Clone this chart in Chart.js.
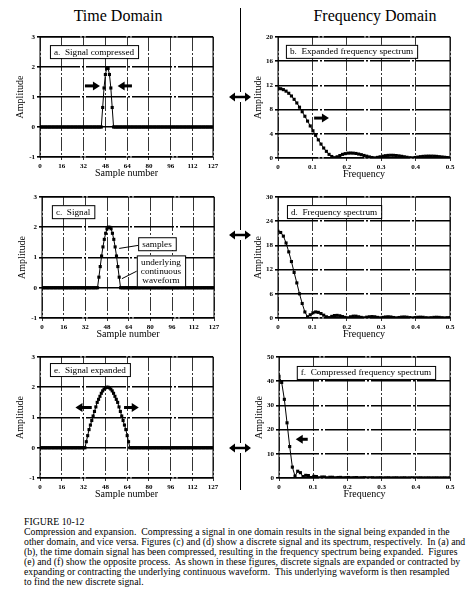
<!DOCTYPE html>
<html><head><meta charset="utf-8">
<script src="https://cdn.jsdelivr.net/npm/chart.js@4"></script>
<style>
body{margin:0;background:#fff;width:474px;height:598px;position:relative;font-family:"Liberation Serif",serif;overflow:hidden}
.box{position:absolute}
.t{position:absolute;font-family:"Liberation Serif",serif;color:#000;white-space:nowrap}
.da{position:absolute;left:229px;width:22px;height:10px;background:#fff}
</style></head><body>
<div class="t" style="left:0;width:236px;text-align:center;top:7px;font-size:16px">Time Domain</div>
<div class="t" style="left:250px;width:250px;text-align:center;top:7px;font-size:16px">Frequency Domain</div>
<div style="position:absolute;left:240px;top:8px;width:1px;height:482px;background:#000"></div>
<svg class="da" style="top:92px" viewBox="0 0 22 10"><path d="M3 5H19" stroke="#000" stroke-width="2.5"/><path d="M0 5L6 0.5V9.5Z M22 5L16 0.5V9.5Z" fill="#000"/></svg>
<svg class="da" style="top:230px" viewBox="0 0 22 10"><path d="M3 5H19" stroke="#000" stroke-width="2.5"/><path d="M0 5L6 0.5V9.5Z M22 5L16 0.5V9.5Z" fill="#000"/></svg>
<svg class="da" style="top:443px" viewBox="0 0 22 10"><path d="M3 5H19" stroke="#000" stroke-width="2.5"/><path d="M0 5L6 0.5V9.5Z M22 5L16 0.5V9.5Z" fill="#000"/></svg>
<div class="t" style="left:24px;top:517px;font-size:9.75px;line-height:10px">FIGURE 10-12<br>Compression and expansion.&nbsp; Compressing a signal in one domain results in the signal being expanded in the<br>other domain, and vice versa. Figures (c) and (d) show a discrete signal and its spectrum, respectively.&nbsp; In (a) and<br>(b), the time domain signal has been compressed, resulting in the frequency spectrum being expanded.&nbsp; Figures<br>(e) and (f) show the opposite process.&nbsp; As shown in these figures, discrete signals are expanded or contracted by<br>expanding or contracting the underlying continuous waveform.&nbsp; This underlying waveform is then resampled<br>to find the new discrete signal.</div>
<div id="wrap"></div>
<script>
// ---- data ----
const timeTicks=[0,16,32,48,64,80,96,112,127];
const freqTicks=[0,0.1,0.2,0.3,0.4,0.5];
const nSamples=128;
const pulseAStart=46;
const pulseA=[0.65,1.3,1.75,1.95,1.95,1.75,1.3,0.65];
const pulseCStart=42;
const pulseC=[0.35,0.7,1.05,1.35,1.6,1.8,1.95,2,2,1.95,1.8,1.6,1.35,1.05,0.7,0.35];
const pulseEStart=34;
const pulseE=[0.2,0.4,0.6,0.75,0.9,1.05,1.2,1.35,1.5,1.6,1.7,1.8,1.88,1.94,1.98,2.0,2.0,1.98,1.94,1.88,1.8,1.7,1.6,1.5,1.35,1.2,1.05,0.9,0.75,0.6,0.4,0.2];
const specB=[11.5,11.45,11.3,11.05,10.7,10.25,9.7,9.1,8.4,7.65,6.9,6.1,5.3,4.5,3.75,3.0,2.3,1.65,1.1,0.6,0.25,0.05,
0.2,0.4,0.6,0.72,0.8,0.82,0.8,0.75,0.65,0.55,0.42,0.3,0.18,0.08,0.02,
0.1,0.2,0.3,0.38,0.43,0.45,0.44,0.4,0.35,0.28,0.2,0.12,0.05,0.02,
0.08,0.15,0.22,0.27,0.3,0.31,0.31,0.3,0.27,0.22,0.17,0.12,0.07,0.03];
const specD=[21.5,21.2,20.3,18.6,16.4,14.0,11.3,8.7,6.0,3.6,1.5,0.3,
0.8,1.3,1.5,1.4,1.1,0.7,0.3,0.1,
0.4,0.6,0.65,0.55,0.35,0.15,0.05,
0.3,0.45,0.45,0.3,0.15,0.05,0.2,
0.3,0.35,0.3,0.15,0.05,0.15,0.25,0.3,0.25,0.12,0.04,0.12,0.22,0.25,0.2,0.1,0.03,0.1,0.18,0.2,0.17,0.08,0.03,0.08,0.15,0.18,0.15,0.08,0.03,0.08,0.12];
const specF=[42,39.5,32.5,22.8,13,4.5,0.8,2.8,2.2,0.6,1.1,1.0,0.2,0.7,0.6,0.1,0.4,0.4,0.1,
0.3,0.3,0.1,0.2,0.25,0.1,0.15,0.2,0.1,0.15,0.18,0.08,0.12,0.15,0.07,0.1,0.13,0.06,0.1,0.12,0.05,0.1,0.11,0.05,0.09,0.1,0.05,0.08,0.1,0.05,0.08,0.09,0.05,0.08,0.09,0.05,0.07,0.08,0.05,0.07,0.08,0.05,0.07,0.08,0.05,0.07];

function timeSeries(start,pulse){const d=[];for(let i=0;i<nSamples;i++){const j=i-start;d.push({x:i,y:(j>=0&&j<pulse.length)?pulse[j]:0});}return d;}
function freqSeries(v){return v.map((y,k)=>({x:k/128,y:y}));}

const F='"Liberation Serif", serif';
const annot={
 id:'annot',
 afterDatasetsDraw(ch,a,opts){
  const c=ch.ctx,xs=ch.scales.x,ys=ch.scales.y,ca=ch.chartArea;
  c.save();
  c.strokeStyle='#000';c.lineWidth=1;c.setLineDash([]);
  c.strokeRect(ca.left,ca.top,ca.right-ca.left,ca.bottom-ca.top);
  (opts.items||[]).forEach(it=>{
   if(it.type==='box'){
    c.font='9.2px '+F;
    const lines=it.text.split('\n');
    const w=Math.max(...lines.map(l=>c.measureText(l).width))+8;
    const h=lines.length*9+4;
    const x=xs.getPixelForValue(it.x),y=ys.getPixelForValue(it.y);
    c.fillStyle='#fff';c.fillRect(x,y,w,h);
    c.lineWidth=1;c.strokeStyle='#000';c.strokeRect(x+0.5,y+0.5,w,h);
    c.fillStyle='#000';c.textBaseline='top';c.textAlign=it.center?'center':'left';
    lines.forEach((l,i)=>c.fillText(l,it.center?x+w/2:x+4,y+2.5+i*9));
   } else if(it.type==='arrow'){
    const x1=xs.getPixelForValue(it.x1),y1=ys.getPixelForValue(it.y),x2=xs.getPixelForValue(it.x2);
    const dir=Math.sign(x2-x1);
    c.lineWidth=3;c.strokeStyle='#000';c.beginPath();c.moveTo(x1,y1);c.lineTo(x2-dir*5,y1);c.stroke();
    c.fillStyle='#000';c.beginPath();c.moveTo(x2,y1);c.lineTo(x2-dir*7,y1-4.5);c.lineTo(x2-dir*7,y1+4.5);c.closePath();c.fill();
   } else if(it.type==='line'){
    c.lineWidth=1;c.beginPath();c.moveTo(xs.getPixelForValue(it.x1),ys.getPixelForValue(it.y1));
    c.lineTo(xs.getPixelForValue(it.x2),ys.getPixelForValue(it.y2));c.stroke();
   }
  });
  c.restore();
 }
};

function mk(left,top,w,h,data,xTicks,xmax,ymin,ymax,ystep,xTitle,items){
 const d=document.createElement('div');d.className='box';
 const W=26+w+8,H=7+h+26;
 d.style.cssText=`left:${left-26}px;top:${top-7}px;width:${W}px;height:${H}px`;
 const cv=document.createElement('canvas');d.appendChild(cv);document.getElementById('wrap').appendChild(d);
 new Chart(cv,{type:'scatter',
  data:{datasets:[{data:data,showLine:true,borderColor:'#000',backgroundColor:'#000',borderWidth:1,pointStyle:'rect',pointRadius:2.2,pointBorderWidth:0}]},
  options:{responsive:true,maintainAspectRatio:false,animation:false,
   layout:{padding:{top:7,right:8,left:0,bottom:0}},
   plugins:{legend:{display:false},tooltip:{enabled:false},annot:{items:items}},
   scales:{
    x:{type:'linear',min:0,max:xmax,
     afterBuildTicks:s=>{s.ticks=xTicks.map(v=>({value:v}));},
     afterFit:s=>{s.height=26;},
     ticks:{autoSkip:false,maxRotation:0,color:'#000',font:{family:F,size:7,weight:'bold'},padding:2},
     grid:{color:'#000',lineWidth:0.8,drawTicks:true,tickLength:3},border:{display:false,dash:[14,2,2,2]},
     title:{display:true,text:xTitle,color:'#000',font:{family:F,size:10},padding:{top:0}}},
    y:{min:ymin,max:ymax,
     afterFit:s=>{s.width=26;},
     ticks:{stepSize:ystep,color:'#000',font:{family:F,size:7,weight:'bold'},padding:2},
     grid:{color:'#000',lineWidth:1.6,tickLength:3},border:{display:false,dash:[40,2,2,2]},
     title:{display:true,text:'Amplitude',color:'#000',font:{family:F,size:10},padding:{bottom:0,top:0}}}
   }},
  plugins:[annot]});
}

mk(40,37,173,120,timeSeries(pulseAStart,pulseA),timeTicks,127,-1,3,1,'Sample number',[
 {type:'box',x:7.3,y:2.73,text:'a.  Signal compressed'},
 {type:'arrow',x1:33,x2:44,y:1.37},{type:'arrow',x1:67.5,x2:57,y:1.37}]);
mk(278,37,172,121,freqSeries(specB),freqTicks,0.5,0,20,4,'Frequency',[
 {type:'box',x:0.023,y:18.7,text:'b.  Expanded frequency spectrum'},
 {type:'arrow',x1:0.105,x2:0.148,y:6.6}]);
mk(42,197,172,121,timeSeries(pulseCStart,pulseC),timeTicks,127,-1,3,1,'Sample number',[
 {type:'box',x:7.3,y:2.73,text:'c.  Signal'},
 {type:'line',x1:71,y1:1.4,x2:57,y2:1.3},
 {type:'box',x:71,y:1.67,text:'samples',center:true},
 {type:'line',x1:70,y1:0.55,x2:59,y2:0.3},
 {type:'box',x:70,y:1.07,text:'underlying\ncontinuous\nwaveform',center:true}]);
mk(278,197,172,121,freqSeries(specD),freqTicks,0.5,0,30,6,'Frequency',[
 {type:'box',x:0.026,y:28,text:'d.  Frequency spectrum'}]);
mk(40,357,173,121,timeSeries(pulseEStart,pulseE),timeTicks,127,-1,3,1,'Sample number',[
 {type:'box',x:7.3,y:2.8,text:'e.  Signal expanded'},
 {type:'arrow',x1:38,x2:26,y:1.33},{type:'arrow',x1:61.7,x2:72.5,y:1.33}]);
mk(279,357,171,121,freqSeries(specF),freqTicks,0.5,0,50,10,'Frequency',[
 {type:'box',x:0.052,y:46.3,text:'f.  Compressed frequency spectrum'},
 {type:'arrow',x1:0.084,x2:0.049,y:16}]);
</script></body></html>
